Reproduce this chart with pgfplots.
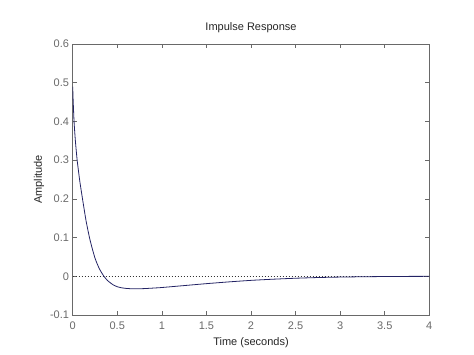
\documentclass[border=0pt]{standalone}
\usepackage{fontspec}
\setmainfont{Liberation Sans}
\usepackage{pgfplots}
\pgfplotsset{compat=1.18}
\definecolor{axgray}{RGB}{105,105,105}
\definecolor{curvecol}{RGB}{35,35,100}
\begin{document}
\begin{tikzpicture}
\path[use as bounding box] (-72.7pt,-39pt) rectangle (401.3pt,315pt);
\begin{axis}[
  at={(0,0)}, anchor=south west,
  scale only axis, width=356.6pt, height=271pt,
  xmin=0, xmax=4, ymin=-0.1, ymax=0.6,
  xtick={0,0.5,1,1.5,2,2.5,3,3.5,4},
  ytick={-0.1,0,0.1,0.2,0.3,0.4,0.5,0.6},
  xticklabels={0,0.5,1,1.5,2,2.5,3,3.5,4},
  yticklabels={-0.1,0,0.1,0.2,0.3,0.4,0.5,0.6},
  axis line style={axgray, line width=0.8pt},
  tick style={axgray, line width=0.6pt},
  major tick length=4pt,
  tick align=inside,
  font=\fontsize{11}{13}\selectfont,
  ticklabel style={text=axgray, font=\fontsize{11}{13}\selectfont},
  xticklabel style={anchor=base, yshift=-14pt},
  yticklabel style={anchor=east, inner sep=3.5pt},
  title={Impulse Response},
  title style={at={(axis description cs:0.5,1)}, anchor=base, yshift=7.3pt, text=black!85},
  xlabel={Time (seconds)},
  xlabel style={at={(axis description cs:0.5,0)}, anchor=base, yshift=-30pt, text=black!85},
  ylabel={Amplitude},
  ylabel style={at={(axis description cs:-0.0861,0.5)}, rotate=0, anchor=base, text=black!85},
  clip=true,
]
\addplot[black!80, line width=0.6pt, dash pattern=on 0.8pt off 2.2pt] coordinates {(0,0) (4,0)};
\addplot[curvecol, line width=0.8pt, smooth, tension=0.3] coordinates {
(0,0.49) (0.005,0.455) (0.015,0.40) (0.03,0.35) (0.05,0.30) (0.08,0.245) (0.11,0.20)
(0.15,0.143) (0.19,0.098) (0.22,0.071) (0.25,0.047) (0.275,0.032) (0.30,0.019)
(0.325,0.009) (0.35,0.0002) (0.375,-0.007) (0.40,-0.0129) (0.45,-0.0215) (0.50,-0.027)
(0.55,-0.0298) (0.60,-0.0313) (0.65,-0.0321) (0.70,-0.0324) (0.80,-0.0318) (0.90,-0.0305)
(1.0,-0.0290) (1.25,-0.024) (1.5,-0.019) (1.75,-0.0145) (2.0,-0.0105) (2.25,-0.0075)
(2.5,-0.005) (2.75,-0.0032) (3.0,-0.002) (3.25,-0.0012) (3.5,-0.0006) (3.75,-0.0003) (4.0,-0.0001)
};
\end{axis}
\end{tikzpicture}
\end{document}
